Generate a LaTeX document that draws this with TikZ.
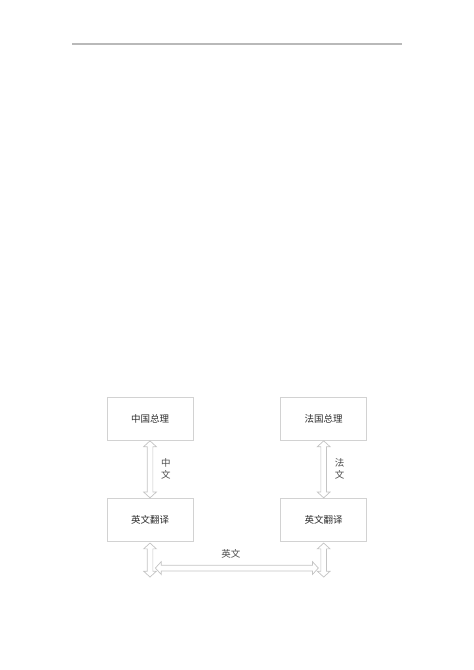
\documentclass[tikz,border=0pt]{standalone}
\usepackage{fontspec}
\setmainfont{Liberation Sans}
\newfontfamily\cjk{Noto Sans CJK SC}
\usepackage{tikz}
\usetikzlibrary{calc,positioning,shapes.arrows}
\definecolor{boxgray}{HTML}{D2D2D2}
\definecolor{arrgray}{HTML}{C4C4C4}
\definecolor{txtgray}{HTML}{2A2A2A}

\begin{document}
\begin{tikzpicture}[
  party/.style={draw=boxgray, line width=0.7pt, minimum width=86pt, minimum height=43pt, inner sep=0pt, text=txtgray},
  hollow/.style={double arrow, draw=arrgray, line width=0.7pt, fill=white, inner xsep=0pt, inner ysep=2.5pt,
    double arrow head extend=3.5pt, double arrow tip angle=95},
  lbl/.style={text=txtgray!85, align=center, inner sep=0pt},
  font=\cjk\fontsize{9.5pt}{12pt}\selectfont,
]
\useasboundingbox (0,0) rectangle (474pt,-670pt);
\coordinate (ruleL) at (72pt,-44pt);
\coordinate (ruleR) at (402pt,-44pt);
\draw[gray!55, line width=1.2pt] (ruleL) -- (ruleR);

\node[party] (zhongzl) at (150pt,-418.5pt) {中国总理};
\node[party, right=87pt of zhongzl] (fazl) {法国总理};
\node[party, below=58pt of zhongzl] (fanyiL) {英文翻译};
\node[party, below=58pt of fazl] (fanyiR) {英文翻译};

\node[hollow, rotate=90, minimum height=57pt] (zharr) at ($(zhongzl.south)!0.5!(fanyiL.north)$) {};
\node[hollow, rotate=90, minimum height=57pt] (faarr) at ($(fazl.south)!0.5!(fanyiR.north)$) {};
\node[lbl, right=11pt of zharr.center] {中\\文};
\node[lbl, right=11pt of faarr.center] {法\\文};

\node[hollow, rotate=90, minimum height=34pt] (yingL) at ($(fanyiL.south)+(0,-18pt)$) {};
\node[hollow, rotate=90, minimum height=34pt] (yingR) at ($(fanyiR.south)+(0,-18pt)$) {};
\node[hollow, minimum height=163pt] (yingarr) at ($(fanyiL.south)!0.5!(fanyiR.south)+(0,-26pt)$) {};
\node[lbl, above=10pt of yingarr.center, xshift=-6pt] {英文};
\end{tikzpicture}
\end{document}
